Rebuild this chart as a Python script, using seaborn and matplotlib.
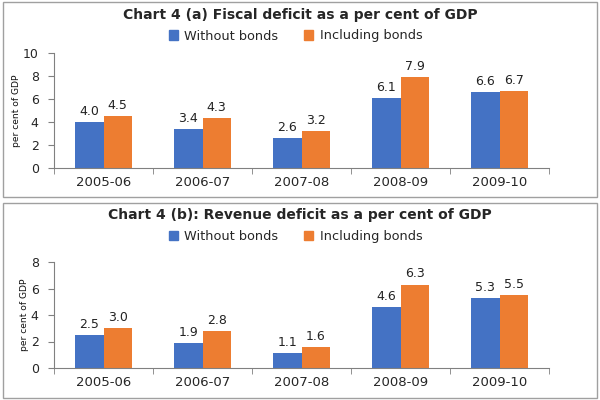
import pandas as pd
import seaborn as sns
import matplotlib.pyplot as plt
from matplotlib.patches import Rectangle

years = ['2005-06', '2006-07', '2007-08', '2008-09', '2009-10']
series = ['Without bonds', 'Including bonds']

fiscal_without = [4.0, 3.4, 2.6, 6.1, 6.6]
fiscal_including = [4.5, 4.3, 3.2, 7.9, 6.7]
revenue_without = [2.5, 1.9, 1.1, 4.6, 5.3]
revenue_including = [3.0, 2.8, 1.6, 6.3, 5.5]

colors = ['#4472C4', '#ED7D31']

sns.set_style('white')
plt.rcParams['font.family'] = ['DejaVu Sans']


def make_df(without, including):
    return pd.DataFrame({
        'Year': years * 2,
        'Series': [series[0]] * 5 + [series[1]] * 5,
        'Value': without + including,
    })


fig = plt.figure(figsize=(6, 4), dpi=100)

# panel borders
for y0 in (0.508, 0.005):
    fig.patches.append(Rectangle((0.005, y0), 0.99, 0.487, transform=fig.transFigure,
                                 fill=False, edgecolor='#A0A0A0', linewidth=1.0))

panels = [
    ('Chart 4 (a) Fiscal deficit as a per cent of GDP', fiscal_without, fiscal_including,
     [0.09, 0.58, 0.825, 0.288], 10, 0.962, 0.91),
    ('Chart 4 (b): Revenue deficit as a per cent of GDP', revenue_without, revenue_including,
     [0.09, 0.08, 0.825, 0.265], 8, 0.462, 0.408),
]

for title, w, inc, rect, ymax, ty, ly in panels:
    ax = fig.add_axes(rect)
    df = make_df(w, inc)
    sns.barplot(data=df, x='Year', y='Value', hue='Series', palette=colors,
                width=0.57, ax=ax, legend=False, saturation=1, linewidth=0)
    for cont in ax.containers:
        ax.bar_label(cont, fmt='%.1f', fontsize=9, padding=3, color='#222222')
    ax.set_ylim(0, ymax)
    ax.set_yticks(range(0, ymax + 1, 2))
    ax.set_xlim(-0.5, 4.5)
    ax.set_xlabel('')
    ax.set_ylabel('per cent of GDP', fontsize=6.6, labelpad=1, color='#111111')
    ax.tick_params(axis='y', left=True, labelsize=9, length=4, direction='out',
                   color='#808080', pad=7)
    ax.tick_params(axis='x', labelsize=9.5, length=0, pad=6)
    for s in ('top', 'right'):
        ax.spines[s].set_visible(False)
    for s in ('left', 'bottom'):
        ax.spines[s].set_color('#808080')
        ax.spines[s].set_linewidth(0.8)
    ax.set_xticks([i + 0.5 for i in range(-1, 5)], minor=True)
    ax.tick_params(axis='x', which='minor', bottom=True, length=4, color='#808080',
                   direction='out')
    fig.text(0.5, ty, title, ha='center', va='center', fontsize=10, fontweight='bold')
    handles = [Rectangle((0, 0), 1, 1, color=c) for c in colors]
    fig.legend(handles, series, loc='center', bbox_to_anchor=(0.493, ly), ncol=2,
               frameon=False, fontsize=9.3, handlelength=0.7, handleheight=0.7,
               columnspacing=2.0, handletextpad=0.5)

fig.savefig('out.png', dpi=100)
